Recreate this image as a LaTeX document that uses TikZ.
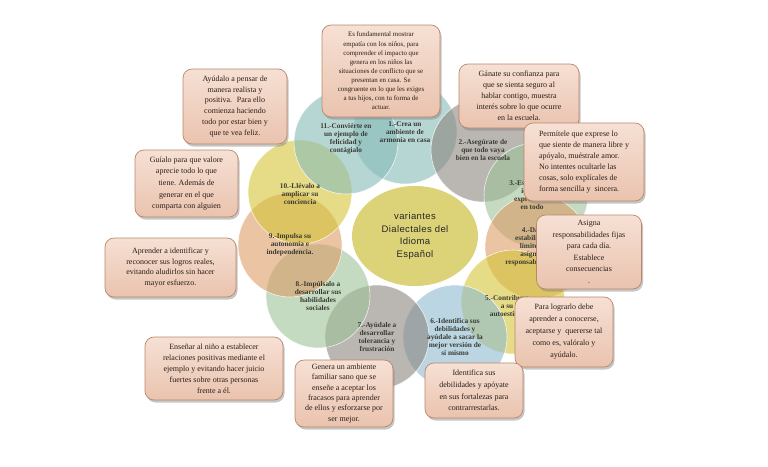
\documentclass[tikz,border=0pt]{standalone}
\usepackage{fontspec}
\setmainfont{Liberation Serif}
\newfontfamily\centerfont[LetterSpace=4]{Liberation Sans}
\usetikzlibrary{shadows,shapes.geometric}
\definecolor{cteal}{HTML}{86BBB8}
\definecolor{cgray}{HTML}{8C857E}
\definecolor{cgreen}{HTML}{9CC298}
\definecolor{ctan}{HTML}{DC9C66}
\definecolor{cyellow}{HTML}{D6C537}
\definecolor{cblue}{HTML}{8DBBCF}
\definecolor{centerfill}{HTML}{DCD379}
\definecolor{boxtop}{HTML}{F6E0D4}
\definecolor{boxbot}{HTML}{EAC3AE}
\definecolor{boxborder}{HTML}{B9876A}
\definecolor{boxtext}{HTML}{2A1E18}
\definecolor{circtext}{HTML}{3A3A32}
\begin{document}
\begin{tikzpicture}[x=1pt,y=-1pt,
  circ/.style={circle, minimum size=104pt, inner sep=0pt, fill=#1, fill opacity=0.6, draw=white, draw opacity=0.8, line width=0.6pt},
  circlabel/.style={align=center, text=circtext, inner sep=0pt, font=\bfseries\fontsize{7.3}{7.9}\selectfont},
  tipbox/.style={draw=boxborder, line width=0.7pt, rounded corners=9pt, top color=boxtop, bottom color=boxbot,
    drop shadow={opacity=0.45, shadow xshift=1.5pt, shadow yshift=-2.5pt},
    align=center, text=boxtext, inner sep=0pt, font=\fontsize{8}{10.9}\selectfont},
  centerell/.style={ellipse, fill=centerfill, minimum width=126pt, minimum height=100pt, inner sep=0pt,
    align=center, text=black!85, font=\centerfont\fontsize{9.5}{12.5}\selectfont}
]
\useasboundingbox (0,0) rectangle (768,466);
% ring of circles
\node[circ=cteal] (c1) at (405,132) {};
\node[circ=cgray] (c2) at (483,150) {};
\node[circ=cgreen] (c3) at (536,195) {};
\node[circ=ctan] (c4) at (537,247) {};
\node[circ=cyellow] (c5) at (513,302) {};
\node[circ=cblue] (c6) at (455,337) {};
\node[circ=cgray] (c7) at (377,337) {};
\node[circ=cgreen] (c8) at (318,296) {};
\node[circ=ctan] (c9) at (290,245) {};
\node[circ=cyellow] (c10) at (300,192) {};
\node[circ=cteal] (c11) at (346,142) {};
% circle labels
\node[circlabel] (t1) at (c1) {1.-Crea un\\ambiente de\\armonía en casa};
\node[circlabel] (t2) at (c2) {2.-Asegúrate de\\que todo vaya\\bien en la escuela};
\node[circlabel] (t3) at ([xshift=-4pt]c3) {3.-Escucha sus\\ideas y\\expresiones\\en todo};
\node[circlabel] (t4) at ([xshift=-4pt]c4) {4.-Dale\\estabilidad,\\límites y\\asígnale\\responsabilidades};
\node[circlabel] (t5) at ([xshift=-6pt,yshift=-4pt]c5) {5.-Contribuye\\a su\\autoestima};
\node[circlabel] (t6) at (c6) {6.-Identifica sus\\debilidades y\\ayúdale a sacar la\\mejor versión de\\sí mismo};
\node[circlabel] (t7) at (c7) {7.-Ayúdale a\\desarrollar\\tolerancia y\\frustración};
\node[circlabel] (t8) at (c8) {8.-Impúlsalo a\\desarrollar sus\\habilidades\\sociales};
\node[circlabel] (t9) at (c9) {9.-Impulsa su\\autonomía e\\independencia.};
\node[circlabel] (t10) at ([yshift=-2pt]c10) {10.-Llévalo a\\amplicar su\\conciencia};
\node[circlabel] (t11) at ([yshift=3pt]c11) {11.-Conviérte en\\un ejemplo de\\felicidad y\\contágialo};
% centre
\node[centerell] (center) at (415,236) {variantes\\Dialectales del\\Idioma\\Español};
% boxes
\node[tipbox, minimum width=118pt, minimum height=92pt, font=\fontsize{6.9}{9.1}\selectfont] (b1) at (381,71)
  {Es fundamental mostrar\\empatía con los niños, para\\comprender el impacto que\\genera en los niños las\\situaciones de conflicto que se\\presentan en casa. Se\\congruente en lo que les exiges\\a tus hijos, con tu forma de\\actuar.};
\node[tipbox, minimum width=120pt, minimum height=64pt] (b2) at (519,96)
  {Gánate su confianza para\\que se sienta seguro al\\hablar contigo, muestra\\interés sobre lo que ocurre\\en la escuela.};
\node[tipbox, minimum width=120pt, minimum height=78pt, align=left] (b3) at (584,162)
  {Permítele que exprese lo\\que siente de manera libre y\\apóyalo, muéstrale amor.\\No intentes ocultarle las\\cosas, solo explícales de\\forma sencilla y~ sincera.};
\node[tipbox, minimum width=105pt, minimum height=74pt, font=\fontsize{8}{11.6}\selectfont] (b4) at (589,252)
  {Asigna\\responsabilidades fijas\\para cada día.\\Establece\\consecuencias\\.};
\node[tipbox, minimum width=98pt, minimum height=70pt, font=\fontsize{8}{12}\selectfont] (b5) at (564,332)
  {Para lograrlo debe\\aprender a conocerse,\\aceptarse y~ quererse tal\\como es, valóralo y\\ayúdalo.};
\node[tipbox, minimum width=98pt, minimum height=55pt, font=\fontsize{8}{11.8}\selectfont] (b6) at (474,390.5)
  {Identifica sus\\debilidades y apóyate\\en sus fortalezas para\\contrarrestarlas.};
\node[tipbox, minimum width=98pt, minimum height=67pt, font=\fontsize{8}{10.3}\selectfont] (b7) at (344,393.5)
  {Genera un ambiente\\familiar sano que se\\enseñe a aceptar los\\fracasos para aprender\\de ellos y esforzarse por\\ser mejor.};
\node[tipbox, minimum width=138pt, minimum height=63pt] (b8) at (214,368.5)
  {Enseñar al niño a establecer\\relaciones positivas mediante el\\ejemplo y evitando hacer juicio\\fuertes sobre otras personas\\frente a él.};
\node[tipbox, minimum width=131pt, minimum height=59pt, font=\fontsize{8}{10.7}\selectfont] (b9) at (170.5,267.5)
  {Aprender a identificar y\\reconocer sus logros reales,\\evitando aludirlos sin hacer\\mayor esfuerzo.};
\node[tipbox, minimum width=103pt, minimum height=67pt, font=\fontsize{8}{11.7}\selectfont] (b10) at (186.5,183.5)
  {Guíalo para que valore\\aprecie todo lo que\\tiene. Además de\\generar en el que\\comparta con alguien};
\node[tipbox, minimum width=104pt, minimum height=75pt] (b11) at (235,106.5)
  {Ayúdalo a pensar de\\manera realista y\\positiva.~ Para ello\\comienza haciendo\\todo por estar bien y\\que te vea feliz.};
\end{tikzpicture}
\end{document}
